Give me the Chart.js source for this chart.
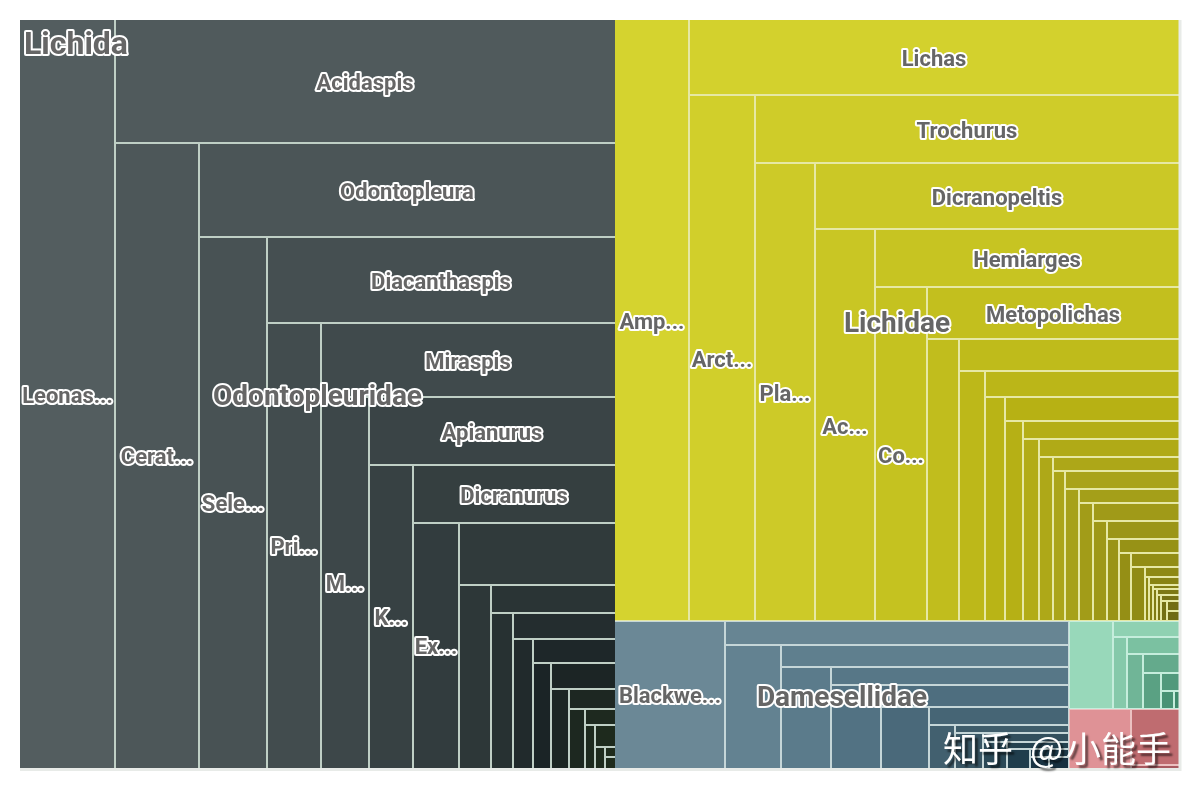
<!DOCTYPE html>
<html>
<head>
<meta charset="utf-8">
<style>
	html, body { margin: 0; padding: 0; background: #fff; }
	canvas { display: block; }
</style>
<script src="https://cdn.jsdelivr.net/npm/chart.js@4/dist/chart.umd.js"></script>
</head>
<body>
<canvas id="treeChart" width="1200" height="800"></canvas>
<script>
// genus sizes per family
var rootName = "Lichida";
var familyNames = ["Odontopleuridae", "Lichidae", "Damesellidae", "", ""];

var odontoValues = [71060,61500,52500,39104,36108,29928,24030,21756,17808,16728,13332,11716,11270,9672,5856,3472,3410,2652,2580,1968,1890,1664,1422,920,944,480,430,440,210,100,110];
var odontoLabels = ["Leonas...","Acidaspis","Cerat...","Odontopleura","Sele...","Diacanthaspis","Pri...","Miraspis","M...","Apianurus","K...","Dicranurus","Ex..."];

var lichidaeValues = [44474,36750,34716,28832,27480,24024,23520,17632,17368,13104,9024,7040,6500,5044,4480,4176,3600,2808,2912,2520,2296,1764,1800,2052,1848,1400,1652,1548,1400,1296,984,840,816,672,756,340,176,240,144,104,128,132,104,108,120,120,120];
var lichidaeLabels = ["Amp...","Lichas","Arct...","Trochurus","Pla...","Dicranopeltis","Ac...","Hemiarges","Co...","Metopolichas"];

var dameValues = [16170,8256,6888,6336,5050,4284,4150,4136,2928,2520,1118,912,980,774,624,434,437,312,209,220];
var dameLabels = ["Blackwe..."];

var greenValues = [3872,1056,1008,884,880,684,648,324,234,90];
var pinkValues = [3658,2688,144];

var familyValues = [odontoValues, lichidaeValues, dameValues, greenValues, pinkValues];
var familyLabels = [odontoLabels, lichidaeLabels, dameLabels, [], []];

var watermark = ["知乎", "@", "小能手"];

// colour ramps, [position, colour]
var ramps = [
	[[0,"#535d5f"],[0.3,"#3a4446"],[0.43,"#303a3b"],[0.67,"#1b2426"],[0.85,"#1e2a1e"],[1,"#1f2b1c"]],
	[[0,"#d5d32f"],[0.2,"#c3bf1e"],[0.33,"#b7b114"],[0.5,"#a9a31a"],[0.75,"#8f8a14"],[1,"#6f6a14"]],
	[[0,"#6b8896"],[0.2,"#5c7c8c"],[0.4,"#4b6b7c"],[0.6,"#3d5a68"],[0.8,"#23414f"],[1,"#173040"]],
	[[0,"#98d8ba"],[0.3,"#7fc4a4"],[0.6,"#5fa588"],[1,"#3f8a6c"]],
	[[0,"#df9296"],[0.5,"#bf6c70"],[1,"#a85a60"]]
];
var lineColors = ["#bfcfc5", "#e6e8a4", "#c5d6d8", "#c5eddc", "#ecc0c0"];

function sum(arr){
	return arr.reduce(function(a, b){ return a + b; }, 0);
}

function rampColor(ramp, t){
	var i = 0;
	while(i < ramp.length - 2 && t > ramp[i + 1][0]) i++;
	var a = ramp[i], b = ramp[i + 1];
	var k = (t - a[0]) / (b[0] - a[0]);
	var out = [1, 3, 5].map(function(p){
		var ca = parseInt(a[1].substr(p, 2), 16);
		var cb = parseInt(b[1].substr(p, 2), 16);
		return Math.round(ca + (cb - ca) * k);
	});
	return "rgb(" + out.join(",") + ")";
}

// cut each value off the remaining box, turning the cut direction every time
function sliceBox(values, box){
	var x0 = box.x0, x1 = box.x1, y0 = box.y0, y1 = box.y1;
	var rest = sum(values);
	return values.map(function(v, i){
		var f = v / rest, t;
		if(i % 2 == 0){
			var x = x0 + (x1 - x0) * f;
			t = {x0: x0, x1: x, y0: y0, y1: y1};
			x0 = x;
		}else{
			var y = y0 + (y1 - y0) * f;
			t = {x0: x0, x1: x1, y0: y0, y1: y};
			y0 = y;
		}
		rest -= v;
		return t;
	});
}

var familyBoxes = sliceBox(familyValues.map(sum), {x0: 0, x1: 1, y0: 0, y1: 1});
var tiles = [];
familyValues.forEach(function(values, f){
	sliceBox(values, familyBoxes[f]).forEach(function(t, i){
		tiles.push({
			x: (t.x0 + t.x1) / 2,
			y: (t.y0 + t.y1) / 2,
			box: t,
			family: f,
			label: familyLabels[f][i] || "",
			color: rampColor(ramps[f], i / (values.length - 1))
		});
	});
});

function near(a, b){
	return Math.abs(a - b) < 1e-6;
}

class TreemapController extends Chart.DatasetController {
	static id = "treemap";
	static defaults = { dataElementType: "bar" };

	update(mode){
		var meta = this._cachedMeta;
		this.updateElements(meta.data, 0, meta.data.length, mode);
	}

	updateElements(rects, start, count, mode){
		var xs = this._cachedMeta.xScale, ys = this._cachedMeta.yScale;
		var split = familyBoxes[0].x1;
		var data = this.getDataset().data;
		for(var i = start; i < start + count; i++){
			var b = data[i].box;
			var px0 = xs.getPixelForValue(b.x0), px1 = xs.getPixelForValue(b.x1);
			var py0 = ys.getPixelForValue(b.y0), py1 = ys.getPixelForValue(b.y1);
			this.updateElement(rects[i], i, {
				x: (px0 + px1) / 2,
				y: py0,
				base: py1,
				width: px1 - px0,
				height: py1 - py0,
				horizontal: false,
				inflateAmount: 0,
				enableBorderRadius: false,
				borderSkipped: {
					left: near(b.x0, 0) || near(b.x0, split),
					right: near(b.x1, 1) || near(b.x1, split),
					top: near(b.y0, 0),
					bottom: near(b.y1, 1)
				},
				options: this.resolveDataElementOptions(i, mode)
			}, mode);
		}
	}
}
Chart.register(TreemapController);

function outlined(ctx, text, x, y, width){
	ctx.lineJoin = "round";
	ctx.lineWidth = width;
	ctx.strokeStyle = "#fff";
	ctx.strokeText(text, x, y);
	ctx.fillStyle = "#666";
	ctx.fillText(text, x, y);
}

var labelPlugin = {
	id: "tileLabels",
	afterDatasetsDraw: function(chart){
		var ctx = chart.ctx, area = chart.chartArea;
		var xs = chart.scales.x, ys = chart.scales.y;

		// pale edge on the right and the bottom of the root
		ctx.save();
		ctx.strokeStyle = "#e8ebe8";
		ctx.lineWidth = 3;
		ctx.beginPath();
		ctx.moveTo(area.right + 1, area.top);
		ctx.lineTo(area.right + 1, area.bottom + 1.5);
		ctx.lineTo(area.left, area.bottom + 1.5);
		ctx.stroke();

		ctx.textAlign = "center";
		ctx.textBaseline = "middle";
		ctx.font = "700 22px Roboto";
		chart.getDatasetMeta(0).data.forEach(function(el, i){
			var t = tiles[i];
			if(!t.label) return;
			outlined(ctx, t.label, xs.getPixelForValue(t.x), ys.getPixelForValue(t.y) + 3, 4);
		});

		ctx.font = "700 28px Roboto";
		familyNames.forEach(function(name, f){
			if(!name) return;
			var b = familyBoxes[f];
			outlined(ctx, name, xs.getPixelForValue((b.x0 + b.x1) / 2), ys.getPixelForValue((b.y0 + b.y1) / 2) + 4, 4);
		});

		ctx.textAlign = "left";
		ctx.font = "700 32px Roboto";
		outlined(ctx, rootName, area.left + 4, area.top + 26, 4);

		// watermark
		ctx.font = "35px 'Noto Sans CJK SC'";
		ctx.textBaseline = "middle";
		ctx.shadowColor = "rgba(0,0,0,0.55)";
		ctx.shadowOffsetX = 3;
		ctx.shadowOffsetY = 3;
		ctx.shadowBlur = 2;
		ctx.fillStyle = "#fff";
		ctx.fillText(watermark[0], 943, 749);
		ctx.fillText(watermark[1], 1030, 749);
		ctx.fillText(watermark[2], 1066, 749);
		ctx.restore();
	}
};

var ctx = document.getElementById("treeChart").getContext("2d");
var tree = new Chart(ctx, {
	type: "treemap",
	data: {
		datasets: [{
			data: tiles,
			backgroundColor: function(c){ return tiles[c.dataIndex].color; },
			borderColor: function(c){ return lineColors[tiles[c.dataIndex].family]; },
			borderWidth: 1,
			borderRadius: 0
		}]
	},
	options: {
		responsive: false,
		animation: false,
		devicePixelRatio: 1,
		layout: { padding: { left: 20, top: 20, right: 21, bottom: 32 } },
		scales: {
			x: { type: "linear", min: 0, max: 1, display: false },
			y: { type: "linear", min: 0, max: 1, reverse: true, display: false }
		},
		plugins: {
			legend: { display: false },
			tooltip: { enabled: false }
		}
	},
	plugins: [labelPlugin]
});
</script>
</body>
</html>
